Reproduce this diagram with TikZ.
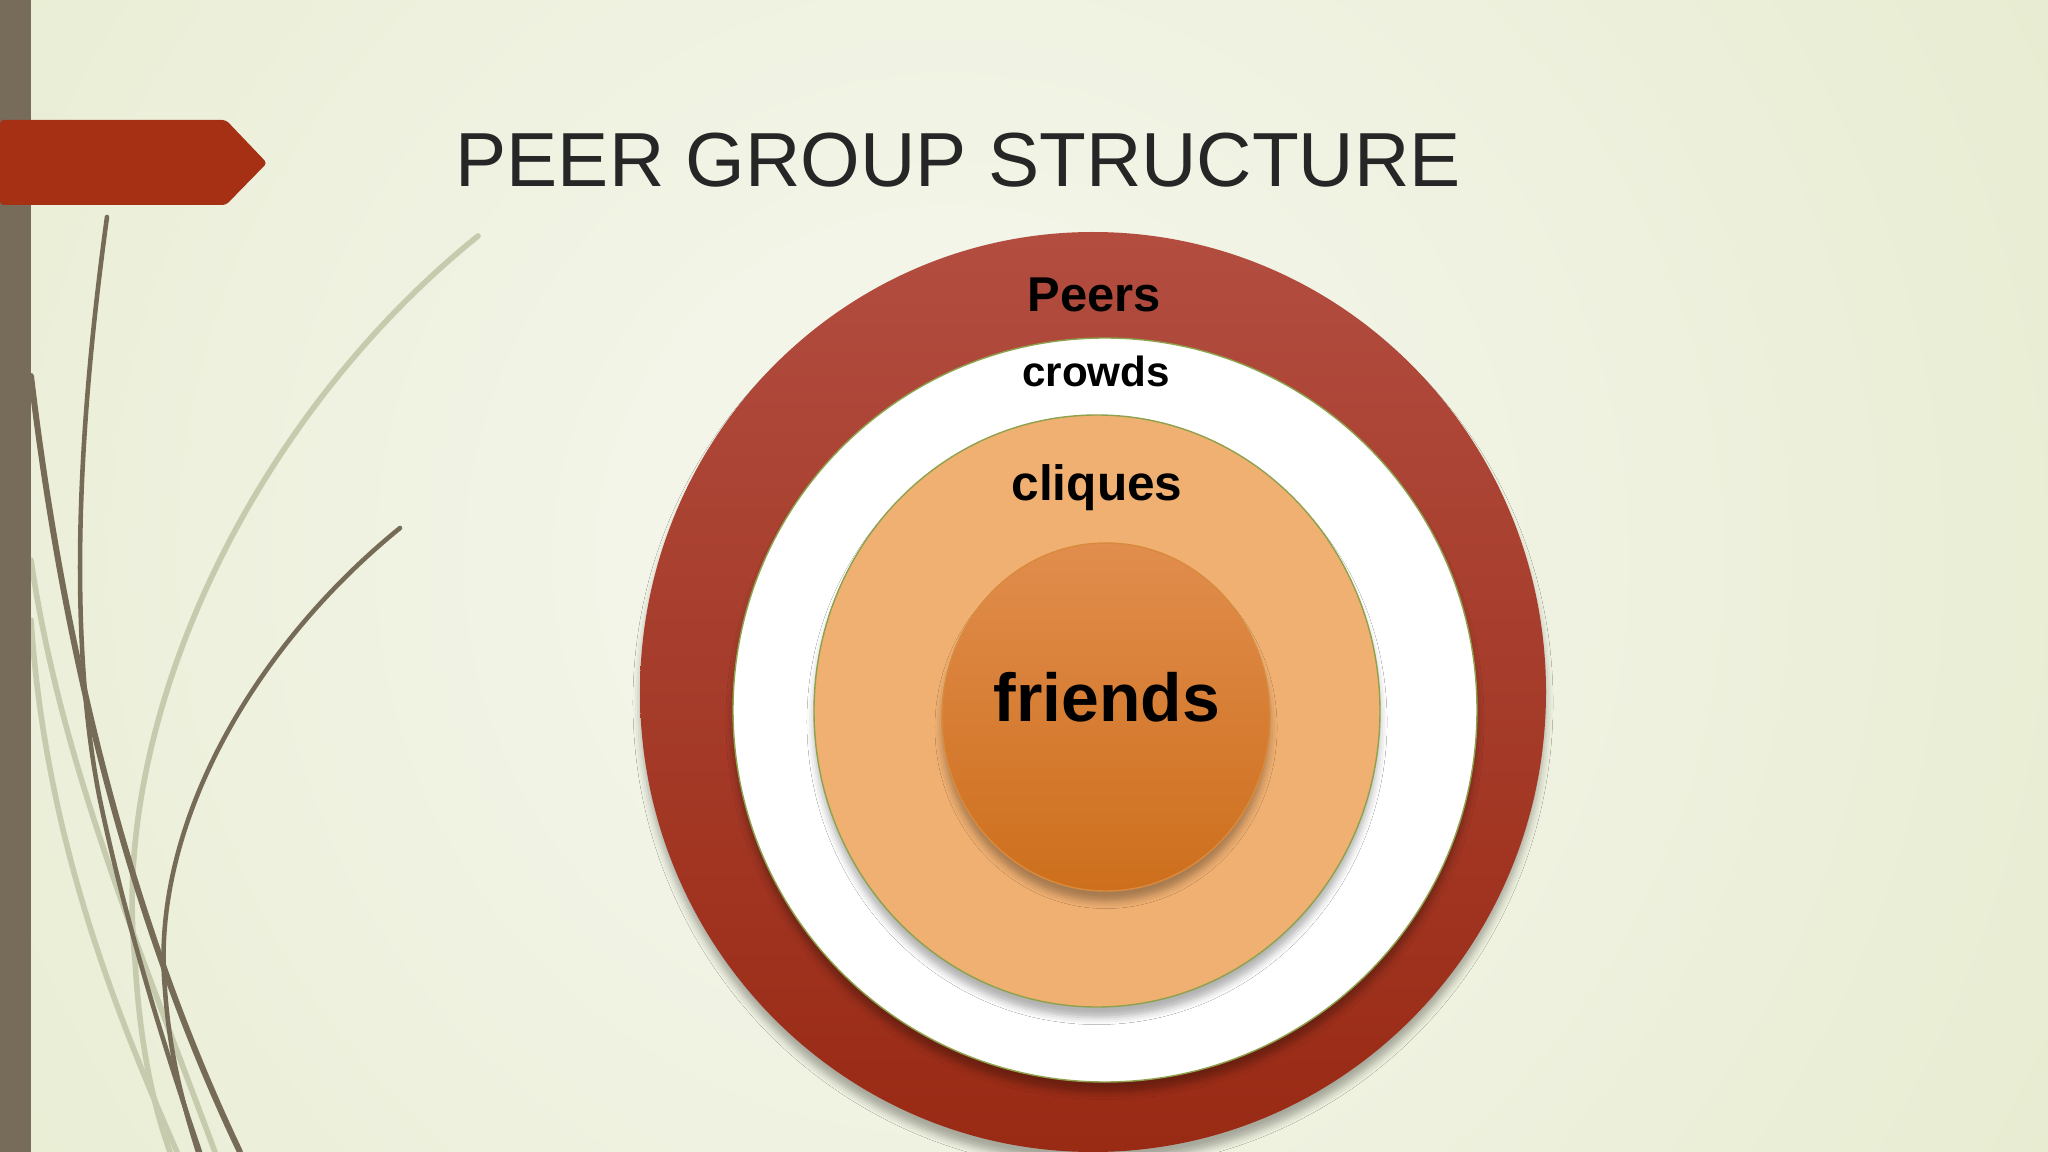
\documentclass[tikz,border=0pt]{standalone}
\usepackage{fontspec}
\setmainfont{Liberation Sans}
\usetikzlibrary{shadows.blur}
\definecolor{slidebar}{HTML}{776C5A}
\definecolor{tabred}{HTML}{A53013}
\definecolor{bglight}{HTML}{F6F8EF}
\definecolor{bgdark}{HTML}{DCE2B8}
\definecolor{titlegray}{HTML}{262626}
\definecolor{ringtop}{HTML}{B24D40}
\definecolor{ringbottom}{HTML}{992A14}
\definecolor{cliquefill}{HTML}{F0B072}
\definecolor{rimgreen}{HTML}{8EA24D}
\definecolor{friendtop}{HTML}{E18D4D}
\definecolor{friendbottom}{HTML}{CD6F1C}
\definecolor{friendrim}{HTML}{D98A3C}
\definecolor{stem}{HTML}{756B57}
\definecolor{stemlight}{HTML}{C7CBAE}
\tikzset{
  softshadow/.style={blur shadow={shadow xshift=0pt, shadow yshift=-3pt,
    shadow blur radius=2pt, shadow opacity=30}},
  ringlabel/.style={text=black, inner sep=0pt, anchor=base},
  darkstem/.style={draw=stem, line cap=round},
  lightstem/.style={draw=stemlight, line width=1.6pt, line cap=round}
}

\begin{document}
\begin{tikzpicture}[x=0.01cm, y=-0.01cm]
  \useasboundingbox (0,0) rectangle (2048,1152);
  \begin{scope}
    \clip (0,0) rectangle (2048,1152);
    \shade[inner color=bglight, outer color=bgdark] (950,560) circle [radius=2300];
    \draw[lightstem] (478,236) .. controls (250,420) and (110,720) .. (135,960)
      .. controls (140,1050) and (155,1110) .. (170,1152);
    \draw[lightstem] (31,560) .. controls (60,760) and (140,950) .. (215,1152);
    \draw[lightstem] (31,620) .. controls (45,830) and (110,1000) .. (177,1152);
    \draw[darkstem, line width=1.3pt] (107,217) .. controls (75,450) and (70,650) .. (100,800)
      .. controls (125,920) and (165,1050) .. (200,1152);
    \draw[darkstem, line width=1.7pt] (31,376) .. controls (60,620) and (120,900) .. (240,1152);
    \draw[darkstem, line width=1.3pt] (400,528) .. controls (250,650) and (150,830) .. (165,990)
      .. controls (170,1060) and (185,1110) .. (198,1152);
    \path[softshadow, top color=ringtop, bottom color=ringbottom]
      (1093,692) ellipse [x radius=453, y radius=460];
    \filldraw[softshadow, fill=white, draw=rimgreen, line width=0.4pt]
      (1105,710) circle [radius=372];
    \filldraw[softshadow, fill=cliquefill, draw=rimgreen, line width=0.4pt]
      (1097,711) ellipse [x radius=283, y radius=296];
    \path[softshadow, top color=friendtop, bottom color=friendbottom, draw=friendrim, line width=0.4pt]
      (1106,717) ellipse [x radius=164, y radius=174];
  \end{scope}
  \fill[slidebar] (0,0) rectangle (31,1152);
  \fill[tabred, rounded corners=1pt] (0,120) -- (226,120) -- (267,163) -- (226,205) -- (0,205) -- cycle;
  \node[text=titlegray, inner sep=0pt, anchor=base west, font=\fontsize{21.8}{26}\selectfont]
    (title) at (455,187) {PEER GROUP STRUCTURE};
  \node[ringlabel, font=\bfseries\fontsize{13.9}{16}\selectfont] (peers) at (1094,312) {Peers};
  \node[ringlabel, font=\bfseries\fontsize{12}{14}\selectfont] (crowds) at (1096,387) {crowds};
  \node[ringlabel, font=\bfseries\fontsize{14.1}{17}\selectfont] (cliques) at (1097,501) {cliques};
  \node[ringlabel, font=\bfseries\fontsize{19.3}{23}\selectfont] (friends) at (1107,721) {friends};
\end{tikzpicture}
\end{document}
